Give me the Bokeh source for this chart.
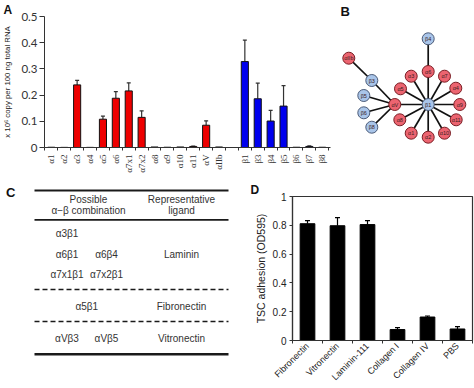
import math
from bokeh.plotting import figure
from bokeh.models import Range1d, FixedTicker, ColumnDataSource, Whisker, TeeHead
from bokeh.layouts import column, row
from bokeh.embed import file_html
from bokeh.resources import INLINE
from bokeh.core.properties import value

# ---------------- data ----------------
alpha_labels = ["α1", "α2", "α3", "α4", "α5", "α6", "α7x1", "α7x2", "α8", "α9", "α10", "α11", "αV", "αIIb"]
alpha_values = [0.001, 0.0005, 0.239, 0.0005, 0.108, 0.188, 0.216, 0.115, 0.002, 0.001, 0.002, 0.004, 0.085, 0.002]
alpha_err = [0, 0, 0.017, 0, 0.012, 0.025, 0.031, 0.025, 0, 0, 0, 0.001, 0.017, 0]
beta_labels = ["β1", "β3", "β4", "β5", "β6", "β7", "β8"]
beta_values = [0.328, 0.186, 0.101, 0.158, 0.001, 0.004, 0.001]
beta_err = [0.082, 0.060, 0.041, 0.078, 0, 0.002, 0]
a_yticks = [0, 0.1, 0.2, 0.3, 0.4, 0.5]

ligands = ["Fibronectin", "Vitronectin", "Laminin-111", "Collagen I", "Collagen IV", "PBS"]
adhesion = [0.811, 0.797, 0.805, 0.076, 0.163, 0.080]
adhesion_err = [0.021, 0.056, 0.027, 0.014, 0.007, 0.016]
d_yticks = [0, 0.2, 0.4, 0.6, 0.8, 1]

node_names = ["β4", "αIIb", "α6", "α3", "α7", "β3", "α5", "α4", "β5", "αV", "β1", "α9", "β6", "α8", "α11", "β8", "α1", "α10", "α2"]
node_x = [427.7, 348.3, 427.7, 410.7, 444.0, 371.3, 400.0, 455.3, 363.3, 394.3, 427.7, 459.3, 363.3, 399.3, 455.7, 371.3, 410.7, 444.0, 427.7]
node_y = [38.3, 57.7, 71.0, 75.7, 75.7, 80.0, 88.3, 87.7, 95.0, 104.0, 104.0, 104.0, 112.3, 119.3, 119.3, 126.7, 132.7, 132.7, 136.7]
edges = [("β1", "α1"), ("β1", "α2"), ("β1", "α3"), ("β1", "α4"), ("β1", "α5"), ("β1", "α6"),
         ("β1", "α7"), ("β1", "α8"), ("β1", "α9"), ("β1", "α10"), ("β1", "α11"), ("β1", "αV"),
         ("β4", "α6"), ("αV", "β3"), ("αV", "β5"), ("αV", "β6"), ("αV", "β8"), ("β3", "αIIb")]

table_header = ["Possible\nα−β combination", "Representative\nligand"]
table_groups = [
    ([["α3β1"], ["α6β1", "α6β4"], ["α7x1β1", "α7x2β1"]], "Laminin"),
    ([["α5β1"]], "Fibronectin"),
    ([["αVβ3", "αVβ5"]], "Vitronectin"),
]

# ---------------- style constants ----------------
FONT = "Liberation Sans"
RED = "#EE0000"
BLUE = "#0000EE"


def panel_letter(p, letter, offset):
    p.title.text = letter
    p.title.text_font = FONT
    p.title.text_font_style = "bold"
    p.title.text_font_size = "12px"
    p.title.text_color = "#111111"
    p.title.align = "left"
    p.title.offset = offset
    p.title.standoff = 0


# ---------------- Panel A ----------------
pa = figure(width=336, height=180, output_backend="svg", toolbar_location=None,
            x_range=Range1d(-0.53, 21.64), y_range=Range1d(0, 0.5),
            min_border_left=41, min_border_right=6, min_border_top=13, min_border_bottom=33)
pa.frame_align = False
pa.outline_line_color = None
pa.xgrid.visible = False
pa.ygrid.visible = False
panel_letter(pa, "A", -41)

ax = list(range(len(alpha_labels)))
bx = [len(alpha_labels) + 1 + i for i in range(len(beta_labels))]
src_a = ColumnDataSource(dict(x=ax, top=alpha_values))
src_b = ColumnDataSource(dict(x=bx, top=beta_values))
pa.vbar(x="x", top="top", width=0.55, source=src_a, fill_color=RED, line_color="#111111", line_width=1)
pa.vbar(x="x", top="top", width=0.55, source=src_b, fill_color=BLUE, line_color="#111111", line_width=1)

wx, wl, wu = [], [], []
for x, v, e in zip(ax + bx, alpha_values + beta_values, alpha_err + beta_err):
    if e > 0:
        wx.append(x); wl.append(v); wu.append(v + e)
wsrc = ColumnDataSource(dict(base=wx, lower=wl, upper=wu))
pa.add_layout(Whisker(source=wsrc, base="base", lower="lower", upper="upper", dimension="height",
                      line_color="#333333", line_width=1.2,
                      upper_head=TeeHead(size=4, line_color="#333333", line_width=1.2), lower_head=None))

nslots = len(alpha_labels) + 1 + len(beta_labels)
pa.xaxis.ticker = FixedTicker(ticks=ax + bx, minor_ticks=[i - 0.5 for i in range(nslots + 1)])
pa.xaxis.major_label_overrides = {x: l for x, l in zip(ax + bx, alpha_labels + beta_labels)}
pa.xaxis.major_label_orientation = math.pi / 2
pa.xaxis.major_tick_out = 0
pa.xaxis.major_tick_in = 0
pa.xaxis.minor_tick_out = 3
pa.xaxis.minor_tick_in = 0
pa.xaxis.major_label_standoff = 4
pa.xaxis.major_label_text_font = "Liberation Serif"
pa.xaxis.major_label_text_font_size = "9px"
pa.xaxis.major_label_text_color = "#333333"
pa.xaxis.axis_line_color = "#333333"
pa.xaxis.minor_tick_line_color = "#333333"

pa.yaxis.ticker = FixedTicker(ticks=a_yticks, minor_ticks=[])
pa.yaxis.major_label_overrides = {0: "0"}
pa.yaxis.major_tick_out = 5
pa.yaxis.major_tick_in = 0
pa.yaxis.major_label_standoff = 2
pa.yaxis.major_label_text_font = "Lato"
pa.yaxis.major_label_text_font_size = "11.5px"
pa.yaxis.major_label_text_color = "#333333"
pa.yaxis.axis_line_color = "#333333"
pa.yaxis.major_tick_line_color = "#333333"
pa.yaxis.axis_label = "x 10⁶ copy per 100 ng total RNA"
pa.yaxis.axis_label_text_font = FONT
pa.yaxis.axis_label_text_font_size = "7.8px"
pa.yaxis.axis_label_text_font_style = "normal"
pa.yaxis.axis_label_text_color = "#222222"
pa.yaxis.axis_label_standoff = 6

# ---------------- Panel B ----------------
pb = figure(width=138, height=180, output_backend="svg", toolbar_location=None,
            x_range=Range1d(336, 474), y_range=Range1d(180, 0),
            x_axis_type=None, y_axis_type=None, min_border=0)
pb.frame_align = False
pb.outline_line_color = None
pb.xgrid.visible = False
pb.ygrid.visible = False
pos = {n: (x, y) for n, x, y in zip(node_names, node_x, node_y)}
pb.segment(x0=[pos[a][0] for a, b in edges], y0=[pos[a][1] for a, b in edges],
           x1=[pos[b][0] for a, b in edges], y1=[pos[b][1] for a, b in edges],
           line_color="#111111", line_width=1.7)
fills = ["#EC6470" if n.startswith("α") else "#A9C5E9" for n in node_names]
lines = ["#7A1E24" if n.startswith("α") else "#4B5B78" for n in node_names]
pb.scatter(x=node_x, y=node_y, size=12, marker="circle", fill_color=fills, line_color=lines, line_width=1)
pb.text(x=node_x, y=node_y, text=node_names, text_align="center", text_baseline="middle",
        text_font=value(FONT), text_font_size="5.5px", text_color="#3A2020")
pb.text(x=[340], y=[3.5], text=["B"], text_align="left", text_baseline="top",
        text_font=value(FONT), text_font_style="bold", text_font_size="13px", text_color="#111111")

# ---------------- Panel C ----------------
pc = figure(width=240, height=208, output_backend="svg", toolbar_location=None,
            x_range=Range1d(0, 240), y_range=Range1d(388, 180),
            x_axis_type=None, y_axis_type=None, min_border=0)
pc.frame_align = False
pc.outline_line_color = None
pc.xgrid.visible = False
pc.ygrid.visible = False
pc.text(x=[5.5], y=[184.5], text=["C"], text_align="left", text_baseline="top",
        text_font=value(FONT), text_font_style="bold", text_font_size="13px", text_color="#111111")
XL, XR = 34, 228
COL1, COL2 = 88, 181
SUB1, SUB2 = 66.5, 106
tx, ty, tt = [], [], []
for cx, h in zip([COL1, COL2], table_header):
    for k, part in enumerate(h.split("\n")):
        tx.append(cx); ty.append(199 + 11.3 * k); tt.append(part)
rule_y = [(190, 2.0, "solid"), (219.3, 1.8, "solid")]
y = 233.3
for gi, (combos, lig) in enumerate(table_groups):
    ys = []
    for line in combos:
        if len(line) == 2:
            tx += [SUB1, SUB2]; ty += [y, y]; tt += line
        elif len(combos) == 1:
            tx.append((SUB1 + SUB2) / 2); ty.append(y); tt.append(line[0])
        else:
            tx.append(SUB1); ty.append(y); tt.append(line[0])
        ys.append(y)
        y += 20.4
    tx.append(COL2); ty.append(sum(ys) / len(ys)); tt.append(lig)
    if gi < len(table_groups) - 1:
        rule_y.append((y - 5.4, 1.5, "5 3"))
        y += 11.6
    else:
        rule_y.append((y - 4.7, 2.6, "solid"))
pc.text(x=tx, y=ty, text=tt, text_align="center", text_baseline="middle",
        text_font=value(FONT), text_font_size="10px", text_color="#333333")
for yy, w, d in rule_y:
    pc.segment(x0=[XL], y0=[yy], x1=[XR], y1=[yy], line_color="#1a1a1a", line_width=w, line_dash=d)

# ---------------- Panel D ----------------
pdd = figure(width=234, height=208, output_backend="svg", toolbar_location=None,
             x_range=Range1d(0, len(ligands)), y_range=Range1d(0, 1),
             min_border_left=52, min_border_right=2, min_border_top=15, min_border_bottom=48)
pdd.frame_align = False
pdd.outline_line_color = "#333333"
pdd.outline_line_width = 1.2
pdd.xgrid.visible = False
pdd.ygrid.visible = False
panel_letter(pdd, "D", -42)
dx = [i + 0.5 for i in range(len(ligands))]
src_d = ColumnDataSource(dict(x=dx, top=adhesion, upper=[v + e for v, e in zip(adhesion, adhesion_err)]))
pdd.vbar(x="x", top="top", width=0.49, source=src_d, fill_color="#000000", line_color="#000000")
pdd.add_layout(Whisker(source=src_d, base="x", lower="top", upper="upper", dimension="height",
                       line_color="#000000", line_width=1.2,
                       upper_head=TeeHead(size=5, line_color="#000000", line_width=1.2), lower_head=None))
pdd.xaxis.ticker = FixedTicker(ticks=dx, minor_ticks=list(range(len(ligands) + 1)))
pdd.xaxis.major_label_overrides = {x: l for x, l in zip(dx, ligands)}
pdd.xaxis.major_label_orientation = math.pi / 4
pdd.xaxis.major_tick_out = 0
pdd.xaxis.major_tick_in = 0
pdd.xaxis.minor_tick_out = 3
pdd.xaxis.minor_tick_in = 0
pdd.xaxis.major_label_standoff = 1
pdd.xaxis.major_label_text_font = FONT
pdd.xaxis.major_label_text_font_size = "9px"
pdd.xaxis.major_label_text_color = "#222222"
pdd.xaxis.axis_line_color = "#333333"
pdd.xaxis.axis_line_width = 1.2
pdd.xaxis.minor_tick_line_color = "#333333"
pdd.yaxis.ticker = FixedTicker(ticks=d_yticks, minor_ticks=[])
pdd.yaxis.major_label_overrides = {0: "0", 1: "1"}
pdd.yaxis.major_tick_out = 3
pdd.yaxis.major_tick_in = 0
pdd.yaxis.major_label_standoff = 3
pdd.yaxis.major_label_text_font = FONT
pdd.yaxis.major_label_text_font_size = "10px"
pdd.yaxis.major_label_text_color = "#222222"
pdd.yaxis.axis_line_color = "#333333"
pdd.yaxis.axis_line_width = 1.2
pdd.yaxis.major_tick_line_color = "#333333"
pdd.yaxis.axis_label = "TSC adhesion (OD595)"
pdd.yaxis.axis_label_text_font = FONT
pdd.yaxis.axis_label_text_font_size = "10.5px"
pdd.yaxis.axis_label_text_font_style = "normal"
pdd.yaxis.axis_label_text_color = "#222222"
pdd.yaxis.axis_label_standoff = 3

layout = column(row(pa, pb), row(pc, pdd))
open("out.html", "w").write(file_html(layout, INLINE))
